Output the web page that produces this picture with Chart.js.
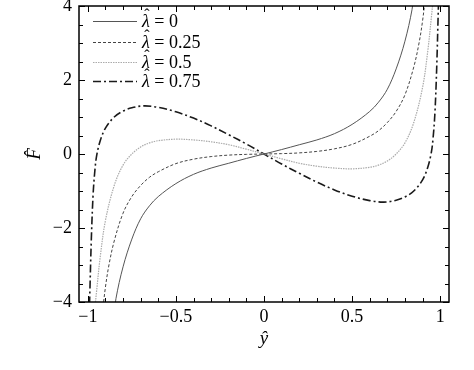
<!DOCTYPE html>
<html><head><meta charset="utf-8">
<script src="https://cdn.jsdelivr.net/npm/chart.js@4"></script>
<style>html,body{margin:0;padding:0;background:#fff;}canvas{display:block;}</style>
</head><body>
<canvas id="c" width="474" height="370"></canvas>
<script>
// Data
const lambdas = ['0', '0.25', '0.5', '0.75'];

const yL0 = [-0.86,-0.84,-0.8,-0.75,-0.7,-0.65,-0.6,-0.5,-0.4,-0.3,-0.2,-0.1,0,0.1,0.2,0.3,0.4,0.5,0.6,0.65,0.7,0.75,0.8,0.84,0.86];
const fL0 = [-4.6,-3.9,-3.05,-2.3,-1.75,-1.4,-1.15,-0.8,-0.55,-0.38,-0.25,-0.12,0,0.12,0.25,0.38,0.55,0.8,1.15,1.4,1.75,2.3,3.05,3.9,4.6];

const yL25 = [-0.92,-0.9,-0.88,-0.85,-0.8,-0.75,-0.7,-0.65,-0.6,-0.5,-0.4,-0.3,-0.2,-0.1,0,0.1,0.2,0.3,0.4,0.5,0.6,0.65,0.7,0.75,0.8,0.85,0.88,0.9,0.92];
const fL25 = [-4.4,-3.6,-3.0,-2.35,-1.6,-1.15,-0.85,-0.63,-0.48,-0.26,-0.14,-0.07,-0.03,-0.01,0,0.01,0.03,0.07,0.14,0.26,0.48,0.63,0.85,1.15,1.6,2.35,3.0,3.6,4.4];

const yL50 = [-0.965,-0.95,-0.93,-0.9,-0.85,-0.8,-0.75,-0.7,-0.65,-0.6,-0.5,-0.4,-0.3,-0.2,-0.1,0,0.1,0.2,0.3,0.4,0.5,0.6,0.65,0.7,0.75,0.8,0.85,0.9,0.93,0.95,0.965];
const fL50 = [-4.4,-3.7,-2.8,-1.8,-0.85,-0.3,0,0.19,0.3,0.36,0.4,0.38,0.33,0.25,0.13,0,-0.13,-0.25,-0.33,-0.38,-0.4,-0.36,-0.3,-0.19,0,0.3,0.85,1.8,2.8,3.7,4.4];

const yL75 = [-0.994,-0.99,-0.98,-0.97,-0.96,-0.95,-0.93,-0.9,-0.85,-0.8,-0.75,-0.68,-0.6,-0.5,-0.4,-0.3,-0.2,-0.1,0,0.1,0.2,0.3,0.4,0.5,0.6,0.68,0.75,0.8,0.85,0.9,0.93,0.95,0.96,0.97,0.98,0.99,0.994];
const fL75 = [-4.5,-4.0,-2.3,-1.1,-0.45,-0.05,0.35,0.7,1.0,1.16,1.25,1.3,1.26,1.14,0.97,0.76,0.52,0.27,0,-0.27,-0.52,-0.76,-0.97,-1.14,-1.26,-1.3,-1.25,-1.16,-1.0,-0.7,-0.35,0.05,0.45,1.1,2.3,4.0,4.5];

const xTicks = [-1, -0.5, 0, 0.5, 1];
const yTicks = [-4, -2, 0, 2, 4];

const pts = (xs, ys) => xs.map((x, i) => ({x: x, y: ys[i]}));
const fmt = v => (v < 0 ? '\u2212' + Math.abs(v) : String(v));
const serif = '"Liberation Serif", "Times New Roman", serif';

const styles = [
  {color: '#555555', width: 1, dash: []},
  {color: '#444444', width: 1, dash: [3, 2]},
  {color: '#ababab', width: 1.2, dash: [1.5, 1]},
  {color: '#1a1a1a', width: 1.6, dash: [8, 3, 2, 3]}
];
const series = [pts(yL0, fL0), pts(yL25, fL25), pts(yL50, fL50), pts(yL75, fL75)];

const datasets = series.map((d, i) => ({
  label: lambdas[i],
  data: d,
  borderColor: styles[i].color,
  borderWidth: styles[i].width,
  borderDash: styles[i].dash,
  pointRadius: 0,
  fill: false,
  tension: 0.35
}));

const framePlugin = {
  id: 'frame',
  afterDraw(chart) {
    const {ctx, chartArea: a, scales: {x, y}} = chart;
    ctx.save();
    ctx.strokeStyle = '#000';
    ctx.lineWidth = 1;
    ctx.setLineDash([]);
    ctx.beginPath();
    for (let k = -10; k <= 10; k++) {
      const v = k / 10;
      const px = Math.round(x.getPixelForValue(v)) + 0.5;
      const len = (k % 5 === 0) ? 6 : 4;
      ctx.moveTo(px, a.bottom); ctx.lineTo(px, a.bottom - len);
      ctx.moveTo(px, a.top); ctx.lineTo(px, a.top + len);
    }
    for (let k = -8; k <= 8; k++) {
      const v = k / 2;
      const py = Math.round(y.getPixelForValue(v)) + 0.5;
      const len = (k % 4 === 0) ? 6 : 4;
      ctx.moveTo(a.left, py); ctx.lineTo(a.left + len, py);
      ctx.moveTo(a.right, py); ctx.lineTo(a.right - len, py);
    }
    ctx.stroke();
    ctx.lineWidth = 1.5;
    ctx.strokeRect(a.left, a.top, a.right - a.left, a.bottom - a.top);

    // legend
    const rows = [21, 42, 62, 81];
    chart.data.datasets.forEach((ds, i) => {
      const yy = rows[i] + 0.5;
      ctx.beginPath();
      ctx.strokeStyle = ds.borderColor;
      ctx.lineWidth = ds.borderWidth;
      ctx.setLineDash(ds.borderDash);
      ctx.moveTo(93, yy); ctx.lineTo(137, yy);
      ctx.stroke();
      ctx.setLineDash([]);
      ctx.fillStyle = '#000';
      ctx.textBaseline = 'alphabetic';
      ctx.textAlign = 'left';
      const base = rows[i] + 6;
      ctx.font = 'italic 18px ' + serif;
      ctx.fillText('\u03BB', 142, base);
      const w = ctx.measureText('\u03BB').width;
      ctx.font = '16px ' + serif;
      ctx.textAlign = 'center';
      ctx.fillText('\u02C6', 142 + w * 0.62, base - 7);
      ctx.textAlign = 'left';
      ctx.font = '18px ' + serif;
      ctx.fillText(' = ' + ds.label, 142 + w, base);
    });
    ctx.restore();
  }
};

new Chart(document.getElementById('c'), {
  type: 'line',
  data: {datasets},
  options: {
    responsive: false,
    animation: false,
    devicePixelRatio: 1,
    layout: {padding: {top: 6, right: 25, left: 0, bottom: 0}},
    plugins: {legend: {display: false}, tooltip: {enabled: false}},
    scales: {
      x: {
        type: 'linear', min: -1.05, max: 1.05,
        afterBuildTicks: s => { s.ticks = xTicks.map(v => ({value: v})); },
        afterFit: s => { s.height = 68; s.paddingLeft = 0; s.paddingRight = 0; },
        ticks: {callback: v => fmt(v), color: '#000', font: {family: serif, size: 18}, padding: 4, maxRotation: 0},
        grid: {display: false, drawTicks: false, tickLength: 0},
        border: {display: false},
        title: {display: true, text: 'y\u0302', color: '#000', font: {family: serif, size: 19, style: 'italic'}, padding: {top: 0, bottom: 20}}
      },
      y: {
        type: 'linear', min: -4, max: 4,
        afterBuildTicks: s => { s.ticks = yTicks.map(v => ({value: v})); },
        afterFit: s => { s.width = 79; s.paddingTop = 0; s.paddingBottom = 0; },
        ticks: {callback: v => fmt(v), color: '#000', font: {family: serif, size: 18}, padding: 7},
        grid: {display: false, drawTicks: false, tickLength: 0},
        border: {display: false},
        title: {display: true, text: 'F\u0302', color: '#000', font: {family: serif, size: 19, style: 'italic'}, padding: {top: 24, bottom: 0}}
      }
    }
  },
  plugins: [framePlugin]
});
</script>
</body></html>
